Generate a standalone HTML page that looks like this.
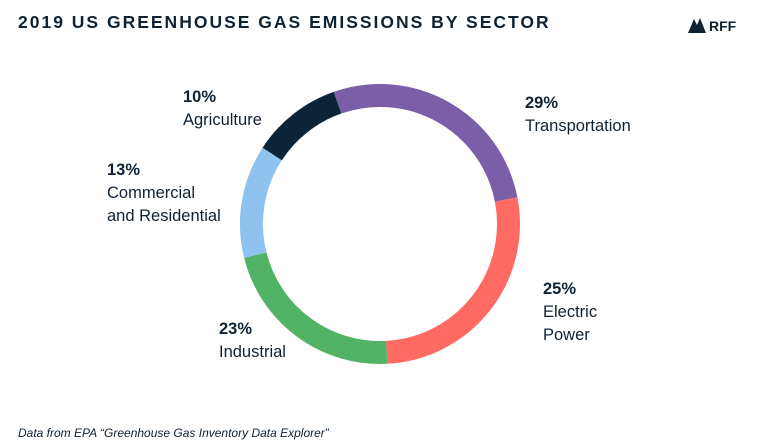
<!DOCTYPE html>
<html><head><style>
body{margin:0;width:760px;height:448px;background:#fff;font-family:"Liberation Sans",sans-serif;color:#0f2233;position:relative;overflow:hidden}
.t{position:absolute;left:18px;top:12px;font-size:17.5px;font-weight:bold;letter-spacing:2px}
.l{position:absolute;font-size:16.5px;line-height:23px}
.l b{display:block}
.f{position:absolute;left:18px;top:426px;font-size:12px;font-style:italic}
</style></head><body>
<div class="t">2019 US GREENHOUSE GAS EMISSIONS BY SECTOR</div>
<svg style="position:absolute;left:688px;top:16px" width="60" height="18"><polygon points="0,17 6,3 9,9 12,2 18,17" fill="#0f2233"/><text x="21" y="15" font-family="Liberation Sans" font-weight="bold" font-size="14" fill="#0f2233">RFF</text></svg>
<svg style="position:absolute;left:0;top:0" width="760" height="448" fill="none" stroke-width="23">
<path d="M337.5,102.7 A128.5,128.5 0 0 1 506.1,199.5" stroke="#7a5fa8"/>
<path d="M506.1,199.5 A128.5,128.5 0 0 1 386.7,352.3" stroke="#ff6b63"/>
<path d="M386.7,352.3 A128.5,128.5 0 0 1 255.3,255.1" stroke="#52b366"/>
<path d="M255.3,255.1 A128.5,128.5 0 0 1 272.2,154.0" stroke="#8ec3ef"/>
<path d="M272.2,154.0 A128.5,128.5 0 0 1 337.5,102.7" stroke="#0b2438"/>
</svg>
<div class="l" style="left:183px;top:86px"><b>10%</b>Agriculture</div>
<div class="l" style="left:107px;top:159px"><b>13%</b>Commercial<br>and Residential</div>
<div class="l" style="left:219px;top:318px"><b>23%</b>Industrial</div>
<div class="l" style="left:525px;top:92px"><b>29%</b>Transportation</div>
<div class="l" style="left:543px;top:278px"><b>25%</b>Electric<br>Power</div>
<div class="f">Data from EPA “Greenhouse Gas Inventory Data Explorer”</div>
</body></html>
